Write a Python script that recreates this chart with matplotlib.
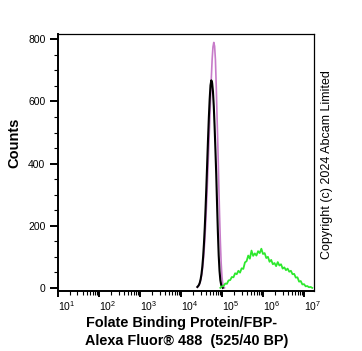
import numpy as np
import matplotlib
matplotlib.use("Agg")
import matplotlib.pyplot as plt
from matplotlib.ticker import LogLocator, MultipleLocator, NullFormatter

plt.rcParams['font.family'] = ['Liberation Sans', 'DejaVu Sans']
plt.rcParams['mathtext.default'] = 'regular'

# log10 de la fluorescencia (centros de bin) y cuentas
log_x_neg = [4.40, 4.42, 4.44, 4.46, 4.48, 4.50, 4.52, 4.54, 4.56, 4.58,
             4.60, 4.62, 4.64, 4.66, 4.68, 4.70, 4.72, 4.74, 4.76, 4.78,
             4.80, 4.82, 4.84, 4.86, 4.88, 4.90, 4.92, 4.94, 4.96, 4.98,
             5.00, 5.02]
cuentas_negro = [3, 6, 10, 17, 28, 44, 67, 99, 141, 193,
                 256, 327, 403, 479, 549, 607, 652, 668, 660, 632,
                 585, 520, 445, 365, 270, 180, 105, 55, 25, 10,
                 3, 0]

log_x_iso = [4.40, 4.42, 4.44, 4.46, 4.48, 4.50, 4.52, 4.54, 4.56, 4.58,
             4.60, 4.62, 4.64, 4.66, 4.68, 4.70, 4.72, 4.74, 4.76, 4.78,
             4.80, 4.82, 4.84, 4.86, 4.88, 4.90, 4.92, 4.94, 4.96, 4.98,
             5.00, 5.02, 5.04, 5.06]
cuentas_magenta = [2, 5, 9, 15, 25, 38, 56, 80, 112, 150,
                   200, 258, 320, 390, 460, 530, 605, 675, 735, 775,
                   790, 778, 735, 650, 550, 455, 345, 240, 150, 80,
                   35, 12, 3, 0]

log_x_pos = [4.96, 5.00, 5.04, 5.08, 5.12, 5.16, 5.20, 5.24, 5.28, 5.32,
             5.36, 5.40, 5.44, 5.48, 5.52, 5.56, 5.60, 5.64, 5.68, 5.72,
             5.76, 5.80, 5.84, 5.88, 5.92, 5.96, 6.00, 6.04, 6.08, 6.12,
             6.16, 6.20, 6.24, 6.28, 6.32, 6.36, 6.40, 6.44, 6.48, 6.52,
             6.56, 6.60, 6.64, 6.68, 6.72, 6.76, 6.80, 6.84, 6.88, 6.92,
             6.96, 7.00, 7.04, 7.08, 7.12, 7.16, 7.20]
cuentas_verde = [0, 5, 6, 14, 13, 24, 25, 35, 34, 47,
                 44, 55, 49, 63, 61, 82, 86, 104, 94, 120,
                 103, 111, 104, 118, 112, 126, 109, 112, 96, 100,
                 84, 90, 76, 80, 70, 83, 72, 76, 62, 66,
                 57, 62, 52, 55, 44, 45, 33, 34, 20, 22,
                 11, 12, 5, 6, 2, 3, 0]

ticks_y = [0, 200, 400, 600, 800]
ticks_x = [1e1, 1e2, 1e3, 1e4, 1e5, 1e6, 1e7]
etiquetas_x = ['$10^{%d}$' % k for k in range(1, 8)]

fig = plt.figure(figsize=(3.62, 3.51), dpi=100)
ax = fig.add_axes([0.160, 0.171, 0.707, 0.732])

ax.plot(10 ** np.array(log_x_iso), cuentas_magenta, color='#c77cc9', lw=1.2)
ax.plot(10 ** np.array(log_x_neg), cuentas_negro, color='black', lw=1.5)
ax.plot(10 ** np.array(log_x_pos), cuentas_verde, color='#2ee82e', lw=1.3)

ax.set_xscale('log')
ax.set_xlim(10, 10 ** 7.24)
ax.set_ylim(-10, 817)

ax.set_yticks(ticks_y)
ax.yaxis.set_minor_locator(MultipleLocator(50))
ax.set_xticks(ticks_x)
ax.set_xticklabels(etiquetas_x, ha='left')
ax.xaxis.set_minor_locator(LogLocator(base=10, subs=np.arange(2, 10)))
ax.xaxis.set_minor_formatter(NullFormatter())

ax.tick_params(axis='both', which='major', direction='out', length=5.5,
               width=1.4, labelsize=7.5)
ax.tick_params(axis='both', which='minor', direction='out', length=3, width=0.8)
ax.tick_params(axis='x', which='major', length=4, pad=2)

ax.spines['left'].set_linewidth(1.4)
ax.spines['bottom'].set_linewidth(1.4)
ax.spines['top'].set_linewidth(0.9)
ax.spines['right'].set_linewidth(0.9)

fig.text(0.040, 0.593, 'Counts', rotation=90, fontsize=10.5,
         fontweight='bold', ha='center', va='center')
fig.text(0.502, 0.080, 'Folate Binding Protein/FBP-',
         fontsize=10.4, fontweight='bold', ha='center', va='center')
fig.text(0.516, 0.029, 'Alexa Fluor\u00ae 488  (525/40 BP)',
         fontsize=10.4, fontweight='bold', ha='center', va='center')

fig.text(0.903, 0.53, 'Copyright (c) 2024 Abcam Limited', rotation=90,
         fontsize=9, ha='center', va='center')

fig.savefig('out.png', dpi=100)
